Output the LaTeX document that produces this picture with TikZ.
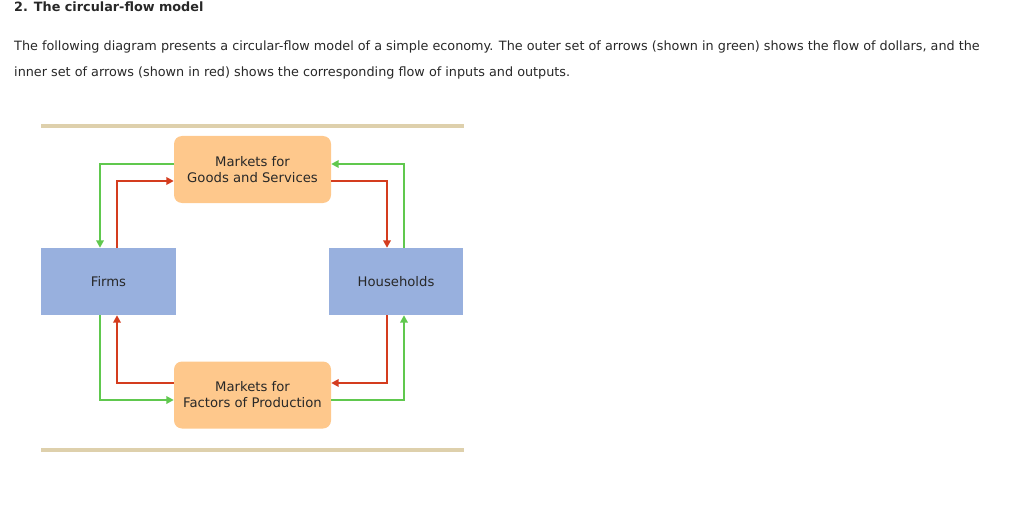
\documentclass[tikz,border=0pt]{standalone}
\usepackage{fontspec}
\setmainfont{DejaVu Sans}
\usetikzlibrary{arrows.meta, positioning}
\definecolor{tan}{RGB}{222,208,172}
\definecolor{goodsfill}{RGB}{254,200,140}
\definecolor{sectorfill}{RGB}{152,176,222}
\definecolor{money}{RGB}{96,200,78}
\definecolor{real}{RGB}{212,60,30}
\definecolor{ink}{RGB}{40,40,40}

\begin{document}
\begin{tikzpicture}[x=1pt,y=-1pt,
    market/.style={draw=none,fill=goodsfill,rounded corners=8pt,minimum width=157pt,minimum height=67pt,align=center,font=\fontsize{13.2}{16}\selectfont,text=ink},
    sector/.style={draw=none,fill=sectorfill,minimum height=67pt,font=\fontsize{13.2}{16}\selectfont,text=ink},
    prose/.style={anchor=west,inner sep=0pt,font=\fontsize{12.8}{15}\selectfont,text=ink},
    flow/.style={line width=2pt,-{Triangle[length=7.5pt,width=7.5pt]}},
    rule/.style={tan,line width=4pt}]
        \useasboundingbox (0,0) rectangle (1024,505);
        \node[prose,font=\bfseries\fontsize{12.8}{15}\selectfont] (title) at (14,7) {2. The circular-flow model};
        \node[prose] (line1) at (14,47) {The following diagram presents a circular-flow model of a simple economy. The outer set of arrows (shown in green) shows the flow of dollars, and the};
        \node[prose] (line2) at (14,73) {inner set of arrows (shown in red) shows the corresponding flow of inputs and outputs.};
        \draw[rule] (41,126) -- (464,126);
        \draw[rule] (41,450) -- (464,450);
        \node[market] (goods) at (252.5,169.5) {Markets for\\Goods and Services};
        \node[market] (factors) at (252.5,395) {Markets for\\Factors of Production};
        \node[sector,minimum width=135pt] (firms) at (108.5,281.5) {Firms};
        \node[sector,minimum width=134pt] (households) at (396,281.5) {Households};
        % dollars
        \draw[flow,money] ([yshift=5.5pt]goods.west) -| ([xshift=-8.5pt]firms.north);
        \draw[flow,money] ([xshift=8pt]households.north) |- ([yshift=5.5pt]goods.east);
        \draw[flow,money] ([xshift=-8.5pt]firms.south) |- ([yshift=-5pt]factors.west);
        \draw[flow,money] ([yshift=-5pt]factors.east) -| ([xshift=8pt]households.south);
        % goods and inputs
        \draw[flow,real] ([xshift=8.5pt]firms.north) |- ([yshift=-11.5pt]goods.west);
        \draw[flow,real] ([yshift=-11.5pt]goods.east) -| ([xshift=-9pt]households.north);
        \draw[flow,real] ([yshift=12pt]factors.west) -| ([xshift=8.5pt]firms.south);
        \draw[flow,real] ([xshift=-9pt]households.south) |- ([yshift=12pt]factors.east);
\end{tikzpicture}
\end{document}
